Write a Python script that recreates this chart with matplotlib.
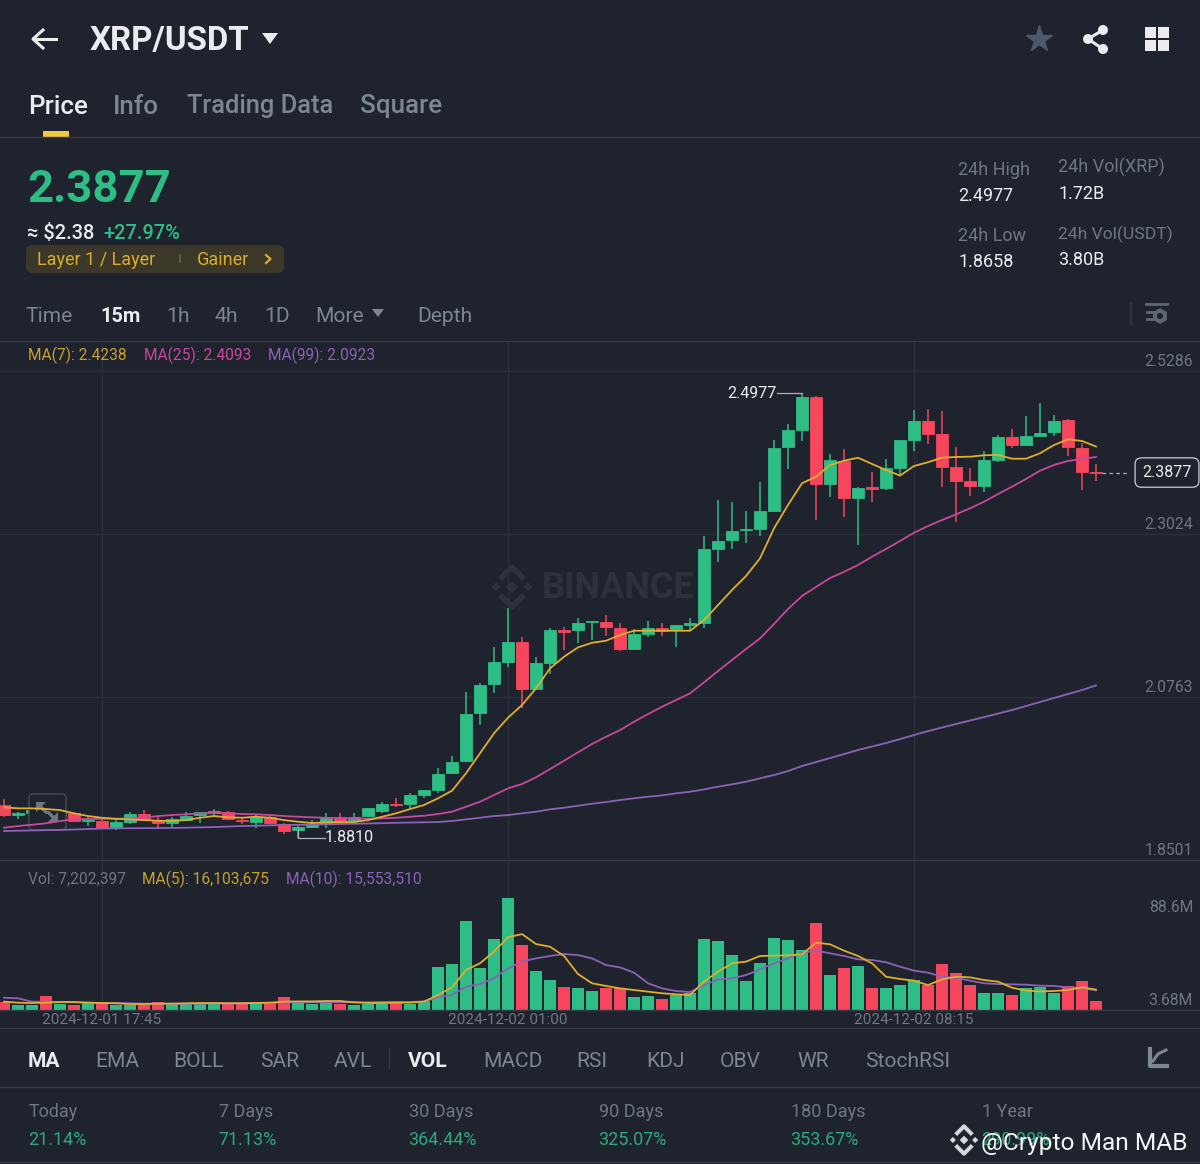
import matplotlib
matplotlib.use('Agg')
import numpy as np
import matplotlib.pyplot as plt
from matplotlib.patches import FancyBboxPatch, Polygon, Rectangle, Circle, RegularPolygon
from matplotlib.transforms import ScaledTranslation

# 15m candles
opens = [1.9264,1.9129,1.9153,1.9222,1.9111,1.9148,1.9041,1.9041,1.8948,1.9031,
         1.9138,1.9055,1.9009,1.9055,1.9125,1.9148,1.9171,1.9055,1.9031,1.9101,
         1.9000,1.8917,1.8962,1.9009,1.9101,1.9055,1.9111,1.9184,1.9277,1.9277,
         1.9402,1.9472,1.9703,1.9878,2.0535,2.0938,2.1251,2.1521,2.0868,2.1238,
         2.1691,2.1691,2.1798,2.1798,2.1715,2.1428,2.1636,2.1723,2.1701,2.1761,
         2.1793,2.2820,2.2941,2.3075,2.3089,2.3348,2.4227,2.4467,2.4921,2.3718,
         2.4041,2.3528,2.3672,2.3658,2.3936,2.4329,2.4596,2.4408,2.3950,2.3756,
         2.3690,2.4051,2.4366,2.4259,2.4388,2.4435,2.4606,2.4222,2.3884]
highs = [1.9347,1.9171,1.9208,1.9250,1.9194,1.9171,1.9093,1.9065,1.9055,1.9171,
         1.9194,1.9093,1.9101,1.9171,1.9171,1.9208,1.9180,1.9093,1.9125,1.9115,
         1.9009,1.8972,1.9055,1.9148,1.9157,1.9148,1.9226,1.9301,1.9357,1.9426,
         1.9472,1.9773,1.9947,2.0835,2.0952,2.1451,2.1993,2.1598,2.1313,2.1715,
         2.1729,2.1862,2.1816,2.1900,2.1784,2.1701,2.1816,2.1784,2.1761,2.1854,
         2.2996,2.3496,2.3472,2.3347,2.3750,2.4329,2.4551,2.4977,2.4939,2.4134,
         2.4200,2.3681,2.3880,2.4065,2.4324,2.4745,2.4755,2.4731,2.4236,2.3936,
         2.4180,2.4398,2.4481,2.4662,2.4846,2.4676,2.4616,2.4291,2.3996]
lows = [1.9097,1.9074,1.9139,1.9111,1.9083,1.9031,1.8972,1.8926,1.8917,1.8995,
        1.9041,1.8940,1.8948,1.9041,1.9018,1.9111,1.9055,1.9000,1.8948,1.9000,
        1.8861,1.8810,1.8940,1.8948,1.9009,1.9009,1.9101,1.9157,1.9240,1.9218,
        1.9357,1.9426,1.9693,1.9864,2.0373,2.0821,2.1182,2.0605,2.0859,2.1077,
        2.1414,2.1515,2.1553,2.1612,2.1404,2.1424,2.1590,2.1612,2.1451,2.1682,
        2.1715,2.2639,2.2812,2.2903,2.2996,2.3334,2.3922,2.4315,2.3218,2.3542,
        2.3264,2.2872,2.3472,2.3635,2.3843,2.4180,2.4269,2.3681,2.3195,2.3552,
        2.3611,2.4027,2.4222,2.4249,2.4384,2.4388,2.4107,2.3635,2.3764]
closes = [1.9125,1.9157,1.9194,1.9125,1.9166,1.9041,1.9055,1.8948,1.9023,1.9138,
          1.9055,1.9009,1.9065,1.9111,1.9162,1.9180,1.9065,1.9037,1.9101,1.9009,
          1.8907,1.8962,1.9000,1.9101,1.9046,1.9101,1.9218,1.9277,1.9264,1.9402,
          1.9472,1.9694,1.9864,2.0526,2.0928,2.1243,2.1521,2.0873,2.1229,2.1691,
          2.1668,2.1784,2.1816,2.1729,2.1428,2.1636,2.1715,2.1682,2.1761,2.1784,
          2.2812,2.2931,2.3070,2.3093,2.3347,2.4222,2.4467,2.4921,2.3718,2.4051,
          2.3528,2.3667,2.3653,2.3936,2.4324,2.4596,2.4412,2.3958,2.3764,2.3690,
          2.4051,2.4366,2.4259,2.4384,2.4430,2.4596,2.4236,2.3889,2.3877]

ma7 = [1.9232,1.9218,1.9218,1.9208,1.9194,1.9148,1.9111,1.9087,1.9073,1.9065,
       1.9055,1.9046,1.9041,1.9055,1.9087,1.9111,1.9093,1.9087,1.9101,1.9087,
       1.9055,1.9032,1.9014,1.9024,1.9028,1.9028,1.9055,1.9101,1.9148,1.9208,
       1.9264,1.9357,1.9462,1.9704,1.9981,2.0259,2.0475,2.0651,2.0883,2.1160,
       2.1321,2.1451,2.1515,2.1543,2.1622,2.1682,2.1682,2.1682,2.1682,2.1682,
       2.1830,2.2038,2.2247,2.2441,2.2686,2.3103,2.3427,2.3728,2.3819,2.3982,
       2.4041,2.4083,2.3996,2.3913,2.3834,2.3968,2.4020,2.4083,2.4093,2.4097,
       2.4117,2.4121,2.4069,2.4069,2.4144,2.4259,2.4338,2.4315,2.4238]
ma25 = [1.8949,1.8972,1.8990,1.9010,1.9042,1.9065,1.9069,1.9073,1.9073,1.9079,
        1.9087,1.9111,1.9125,1.9135,1.9148,1.9157,1.9148,1.9139,1.9135,1.9125,
        1.9111,1.9101,1.9093,1.9087,1.9079,1.9079,1.9073,1.9079,1.9087,1.9101,
        1.9115,1.9139,1.9171,1.9240,1.9309,1.9402,1.9495,1.9555,1.9648,1.9763,
        1.9878,1.9995,2.0110,2.0211,2.0304,2.0419,2.0526,2.0627,2.0720,2.0813,
        2.0966,2.1123,2.1276,2.1428,2.1576,2.1775,2.1983,2.2164,2.2289,2.2413,
        2.2500,2.2594,2.2709,2.2816,2.2927,2.3042,2.3135,2.3218,2.3297,2.3381,
        2.3472,2.3579,2.3681,2.3788,2.3903,2.3982,2.4038,2.4065,2.4093]
ma99 = [1.8903,1.8907,1.8911,1.8915,1.8919,1.8924,1.8931,1.8937,1.8940,1.8942,
        1.8943,1.8944,1.8946,1.8949,1.8954,1.8958,1.8965,1.8972,1.8976,1.8982,
        1.8986,1.8989,1.8993,1.8997,1.9001,1.9004,1.9008,1.9012,1.9017,1.9021,
        1.9024,1.9028,1.9042,1.9065,1.9087,1.9111,1.9125,1.9148,1.9171,1.9204,
        1.9226,1.9254,1.9282,1.9305,1.9333,1.9357,1.9379,1.9398,1.9426,1.9448,
        1.9481,1.9518,1.9551,1.9587,1.9634,1.9680,1.9735,1.9805,1.9860,1.9916,
        1.9971,2.0027,2.0075,2.0124,2.0179,2.0235,2.0290,2.0339,2.0388,2.0436,
        2.0484,2.0533,2.0582,2.0637,2.0693,2.0748,2.0804,2.0859,2.0923]

# volume in millions
volume = [6.6,3.9,3.9,11.1,4.5,3.9,5.3,5.3,3.9,3.9,4.5,6.1,4.5,4.5,5.0,5.0,4.5,4.5,6.6,5.3,
          10.0,5.3,4.7,5.3,4.7,4.2,4.7,4.7,5.3,5.0,7.1,33.7,36.3,70.3,33.2,56.1,88.6,51.3,31.1,23.4,
          17.9,17.6,15.0,17.1,17.1,10.5,11.3,8.4,11.8,13.7,55.8,54.2,43.4,23.2,36.9,56.6,55.0,47.4,68.7,27.6,
          32.9,35.0,17.1,17.6,19.7,23.7,19.7,36.3,29.0,19.7,13.2,13.4,11.8,17.1,18.2,13.7,19.0,22.9,7.2]
vol_ma5 = [6.6,5.8,5.5,5.8,6.3,6.3,5.8,5.5,5.3,4.7,4.7,5.0,5.0,5.3,5.5,5.5,5.3,5.3,5.5,5.8,
           6.6,6.8,6.8,7.1,7.1,6.1,5.5,5.5,5.8,5.8,6.6,11.8,17.9,31.6,36.9,46.1,57.4,60.0,52.1,50.0,
           42.7,28.4,21.1,19.0,17.1,15.8,14.5,13.2,12.4,11.8,22.4,30.3,36.9,38.2,42.7,42.9,43.2,44.0,53.2,51.9,
           46.9,42.7,36.9,26.3,24.5,23.2,19.7,24.2,26.3,25.8,23.7,22.4,17.6,15.3,14.7,15.0,15.8,17.9,16.1]
vol_ma10 = [9.7,9.2,6.6,6.6,6.3,6.1,5.8,5.5,5.5,5.3,5.0,5.0,5.0,5.0,5.0,5.3,5.3,5.5,5.5,5.5,
            6.1,6.1,6.1,6.1,6.1,6.1,6.1,6.3,6.3,6.3,6.8,10.0,11.8,18.4,20.5,25.0,32.9,38.2,40.8,42.7,
            44.2,43.4,40.8,35.5,33.7,29.5,21.1,17.1,15.0,14.2,19.7,24.2,25.0,27.6,32.1,36.9,40.8,45.3,46.9,44.8,
            42.7,40.0,39.5,37.7,34.2,31.1,29.5,26.3,25.5,23.2,21.1,20.5,20.3,20.0,19.2,19.0,17.9,17.4,15.55]

price_ticks = [2.5286, 2.3024, 2.0763, 1.8501]
vol_ticks = [3.68, 88.6]
vol_tick_labels = ['3.68M', '88.6M']
date_ticks = [7, 36, 65]
date_labels = ['2024-12-01 17:45', '2024-12-02 01:00', '2024-12-02 08:15']

BG = '#1e232d'
GRID = '#2b303a'
LINE = '#343a46'
GREEN = '#2ebd85'
RED = '#f6465d'
GREY = '#7d8693'
DIM = '#6f7783'
WHITE = '#eaecef'
YELLOW = '#e0ad2d'
MAG = '#c9489f'
PURPLE = '#8c62b8'
FONT = 'Roboto'

W, H = 1200, 1164
PX_PER_BAR = 14.0
PRICE_PER_PX = 0.0013877
VOL_PER_PX = 0.79

plt.rcParams['font.family'] = FONT
fig = plt.figure(figsize=(W / 100, H / 100), dpi=100, facecolor=BG)


def px_axes(top, bottom):
    return fig.add_axes([0, 1 - bottom / H, 1, (bottom - top) / H])


def idx_at(px):
    return (px - 4) / PX_PER_BAR


x = np.arange(len(closes))
bar_colors = [GREEN if c >= o else RED for o, c in zip(opens, closes)]

ui = fig.add_axes([0, 0, 1, 1], zorder=5)
ui.set_xlim(0, W)
ui.set_ylim(H, 0)
ui.axis('off')


def txt(px, py, s, size, color=GREY, weight='normal', ha='left', **kw):
    # size in px, py is the baseline
    return ui.text(px, py, s, fontsize=size * 0.72, color=color, fontweight=weight, ha=ha, va='baseline', **kw)


def diamond(target, cx, cy, r, color, z=1):
    # the exchange logo made of small rotated squares
    tr = ui.transData
    for dx, k in [(0, 0.24), (-0.62, 0.17), (0.62, 0.17)]:
        target.add_patch(Polygon([[cx + dx * r, cy - k * r], [cx + dx * r + k * r, cy], [cx + dx * r, cy + k * r],
                                  [cx + dx * r - k * r, cy]], fc=color, lw=0, transform=tr, zorder=z))
    for sign in (-1, 1):
        target.plot([cx - 0.38 * r, cx, cx + 0.38 * r], [cy + sign * 0.38 * r, cy + sign * 0.76 * r, cy + sign * 0.38 * r],
                    color=color, lw=r * 0.16, transform=tr, zorder=z)


# price panel
ax = px_axes(342, 860)
ax.set_facecolor('none')
ax.set_xlim(idx_at(0), idx_at(W))
ax.set_ylim(price_ticks[-1], price_ticks[0] + 29 * PRICE_PER_PX)
ax.vlines(x, lows, highs, colors=bar_colors, lw=1.1, zorder=2)
bodies = np.abs(np.array(closes) - np.array(opens))
ax.bar(x, bodies, bottom=np.minimum(opens, closes), width=0.86, color=bar_colors,
       edgecolor=bar_colors, lw=0.6, zorder=2)
ax.plot(x, ma99, color=PURPLE, lw=1.3, zorder=4)
ax.plot(x, ma25, color=MAG, lw=1.3, zorder=4)
ax.plot(x, ma7, color=YELLOW, lw=1.3, zorder=4)

ax.set_xticks(date_ticks)
ax.set_yticks(price_ticks)
ax.set_yticklabels(['%.4f' % p for p in price_ticks], fontsize=11.3, color=DIM)
ax.grid(True, color=GRID, lw=1, zorder=0)
ax.set_axisbelow(True)
ax.tick_params(axis='x', length=0, labelbottom=False)
ax.tick_params(axis='y', length=0, left=False, labelleft=False, right=False, labelright=True, pad=-5)
shift = ScaledTranslation(0, 0.02, fig.dpi_scale_trans)
for lab in ax.get_yticklabels():
    lab.set_ha('right')
    lab.set_va('bottom')
    lab.set_transform(lab.get_transform() + shift)
for s in ax.spines.values():
    s.set_visible(False)

# faint exchange mark behind the candles
diamond(ax, 512, 587, 26, '#2c313b')
ax.text(542, 598, 'BINANCE', fontsize=26, color='#2c313b', fontweight='bold', transform=ui.transData, zorder=1)

# high / low markers and the last price tag
low_i = int(np.argmin(lows))
high_i = int(np.argmax(highs))
ax.plot([low_i, low_i, idx_at(325)], [lows[low_i] + 8 * PRICE_PER_PX, lows[low_i], lows[low_i]],
        color='#aab0ba', lw=0.9, zorder=4)
ax.text(idx_at(325), lows[low_i], '%.4f' % lows[low_i], color=WHITE, fontsize=11.5, va='center', zorder=6)
ax.plot([idx_at(777), high_i], [highs[high_i], highs[high_i]], color='#aab0ba', lw=0.9, zorder=4)
ax.text(idx_at(777), highs[high_i], '%.4f' % highs[high_i], color=WHITE, fontsize=11.5,
        va='center', ha='right', zorder=6)
ax.plot([idx_at(1102), idx_at(1128)], [closes[-1], closes[-1]], color='#aab0ba', lw=0.9, ls=(0, (3, 2.5)), zorder=4)
ax.text(idx_at(1167), closes[-1], '%.4f' % closes[-1], color=WHITE, fontsize=11.5, ha='center', va='center',
        zorder=6, bbox=dict(boxstyle='round,pad=0.45,rounding_size=0.4', fc=BG, ec='#c9ced6', lw=0.9))

# screen rotate button, covers the candles underneath
ICON = '#6f7783'
ax.add_patch(FancyBboxPatch((29, 794), 37, 36, boxstyle='round,pad=0,rounding_size=4', fc=BG, ec='#4b525e',
                            lw=0.9, transform=ui.transData, zorder=3))
ax.add_patch(Polygon([[36, 802], [46, 802], [36, 812]], fc=ICON, lw=0, transform=ui.transData, zorder=3))
ax.plot([39, 46], [805, 812], color=ICON, lw=2.4, transform=ui.transData, zorder=3)
ax.add_patch(Polygon([[58, 822], [48, 822], [58, 812]], fc=ICON, lw=0, transform=ui.transData, zorder=3))
ax.plot([55, 49], [819, 813], color=ICON, lw=2.4, transform=ui.transData, zorder=3)

# volume panel
vx = px_axes(860, 1010)
vx.set_facecolor('none')
vx.set_xlim(idx_at(0), idx_at(W))
vx.set_ylim(0, 150 * VOL_PER_PX)
vx.bar(x, volume, width=0.88, color=bar_colors, zorder=2)
vx.plot(x, vol_ma10, color=PURPLE, lw=1.3, zorder=4)
vx.plot(x, vol_ma5, color=YELLOW, lw=1.3, zorder=5)
vx.set_xticks(date_ticks)
vx.set_xticklabels(date_labels, fontsize=11, color=DIM)
vx.set_yticks(vol_ticks)
vx.set_yticklabels(vol_tick_labels, fontsize=11.3, color=DIM)
vx.grid(True, axis='x', color=GRID, lw=1, zorder=0)
vx.set_axisbelow(True)
vx.tick_params(axis='x', length=0, pad=2)
vx.tick_params(axis='y', length=0, left=False, labelleft=False, right=False, labelright=True, pad=-5)
shift_down = ScaledTranslation(0, -0.025, fig.dpi_scale_trans)
for lab, va in zip(vx.get_yticklabels(), ['bottom', 'top']):
    lab.set_ha('right')
    lab.set_va(va)
    lab.set_transform(lab.get_transform() + shift_down)
for name, s in vx.spines.items():
    s.set_visible(name in ('bottom', 'top'))
    s.set_color(LINE)
    s.set_linewidth(1)

for yy in [137, 341, 1028, 1087, 1162]:
    ui.plot([0, W], [yy, yy], color=LINE, lw=1)

# top bar
ui.plot([34, 56], [39, 39], color=WHITE, lw=2.2)
ui.plot([43, 33, 43], [30, 39, 48], color=WHITE, lw=2.2)
txt(90, 50, 'XRP/USDT', 33, WHITE, 'bold')
ui.add_patch(Polygon([[262, 33], [278, 33], [270, 44]], fc=WHITE, lw=0))
ui.plot([1039], [39], marker='*', ms=20, color='#4c596c', mec='#4c596c')
share = [(1103, 30), (1088, 39), (1103, 49)]
ui.plot([p[0] for p in share], [p[1] for p in share], color=WHITE, lw=2.2)
for p in share:
    ui.add_patch(Circle(p, 5, fc=WHITE, lw=0))
for gx, gy in [(1145, 27), (1158, 27), (1145, 40), (1158, 40)]:
    ui.add_patch(Rectangle((gx, gy), 11, 11, fc=WHITE, lw=0))

# tabs
txt(28, 113.5, 'Price', 26, WHITE, 'medium')
for tx, name, size in zip([113, 187, 360], ['Info', 'Trading Data', 'Square'], [26, 25.5, 26]):
    txt(tx, 113.5, name, size, GREY, 'medium')
ui.add_patch(Rectangle((43, 131), 26, 6, fc='#f0c93c', lw=0))

# price block
txt(27, 202, '2.3877', 45.5, GREEN, 'bold')
txt(27, 239, '≈ $2.38', 20, WHITE, 'medium', family=[FONT, 'DejaVu Sans'])
txt(103, 239, '+27.97%', 20, GREEN, 'medium')
ui.add_patch(FancyBboxPatch((26, 245), 258, 28, boxstyle='round,pad=0,rounding_size=6', fc='#3b3829', lw=0))
txt(37, 265, 'Layer 1 / Layer', 18, '#d9ab2e')
ui.plot([180, 180], [255, 262], color='#6f6335', lw=1.2)
txt(197, 265, 'Gainer', 18, '#d9ab2e')
ui.plot([266, 270.5, 266], [255, 259, 263], color='#d9ab2e', lw=1.6)

# 24h block
txt(958, 175, '24h High', 18, DIM)
txt(958, 201, '2.4977', 18, WHITE)
txt(958, 241, '24h Low', 18, DIM)
txt(958, 267, '1.8658', 18, WHITE)
txt(1058, 173, '24h Vol(XRP)', 18, DIM)
txt(1058, 199, '1.72B', 18, WHITE)
txt(1058, 239, '24h Vol(USDT)', 17.5, DIM)
txt(1058, 265, '3.80B', 18, WHITE)

# interval row
for tx, name in zip([25, 166, 214, 264, 315, 417], ['Time', '1h', '4h', '1D', 'More', 'Depth']):
    txt(tx, 322, name, 21, GREY)
txt(100, 322, '15m', 20, WHITE, 'bold')
ui.add_patch(Polygon([[372, 309], [384, 309], [378, 317]], fc=GREY, lw=0))
ui.plot([1131, 1131], [303, 324], color=LINE, lw=1.2)
ui.plot([1146, 1167], [304, 304], color='#5f6773', lw=2)
ui.plot([1147, 1153], [312, 312], color='#5f6773', lw=2)
ui.plot([1147, 1153], [319, 319], color='#5f6773', lw=2)
ui.add_patch(RegularPolygon((1160, 316), 6, radius=8, fc='#5f6773', lw=0))
ui.add_patch(Circle((1160, 316), 3, fc=BG, lw=0))

# moving average legends
txt(28, 360, 'MA(7): 2.4238', 15.5, '#c9a12f')
txt(144, 360, 'MA(25): 2.4093', 15.5, MAG)
txt(268, 360, 'MA(99): 2.0923', 15.5, PURPLE)
txt(28, 884, 'Vol: 7,202,397', 15.5, DIM)
txt(142, 884, 'MA(5): 16,103,675', 15.5, '#c9a12f')
txt(286, 884, 'MA(10): 15,553,510', 15.5, PURPLE)

# indicator row
names = ['EMA', 'BOLL', 'SAR', 'AVL', 'MACD', 'RSI', 'KDJ', 'OBV', 'WR', 'StochRSI']
name_x = [95, 173, 260, 334, 483, 576, 646, 720, 797, 865]
for tx, name in zip(name_x, names):
    txt(tx, 1067, name, 21, GREY)
txt(28, 1067, 'MA', 21, WHITE, 'bold')
txt(408, 1067, 'VOL', 21, WHITE, 'bold')
ui.plot([389, 389], [1048, 1068], color=LINE, lw=1)
ui.plot([1150, 1150, 1167], [1049, 1066, 1066], color='#7d8693', lw=3)
ui.plot([1153, 1158, 1166], [1061, 1054, 1050], color='#7d8693', lw=2.2)

# performance row
periods = ['Today', '7 Days', '30 Days', '90 Days', '180 Days', '1 Year']
period_x = [29, 219, 409, 599, 791, 982]
changes = ['21.14%', '71.13%', '364.44%', '325.07%', '353.67%', '290.99%']
for tx, name, val in zip(period_x, periods, changes):
    txt(tx, 1117, name, 18, DIM)
    txt(tx - 1, 1145, val, 18, '#2ea87c')

# watermark sits over the last value
diamond(ui, 964, 1140, 18, '#d8dade')
txt(981, 1150, '@Crypto Man MAB', 24.5, '#f4f5f6')

fig.savefig('out.png', dpi=100, facecolor=BG)
